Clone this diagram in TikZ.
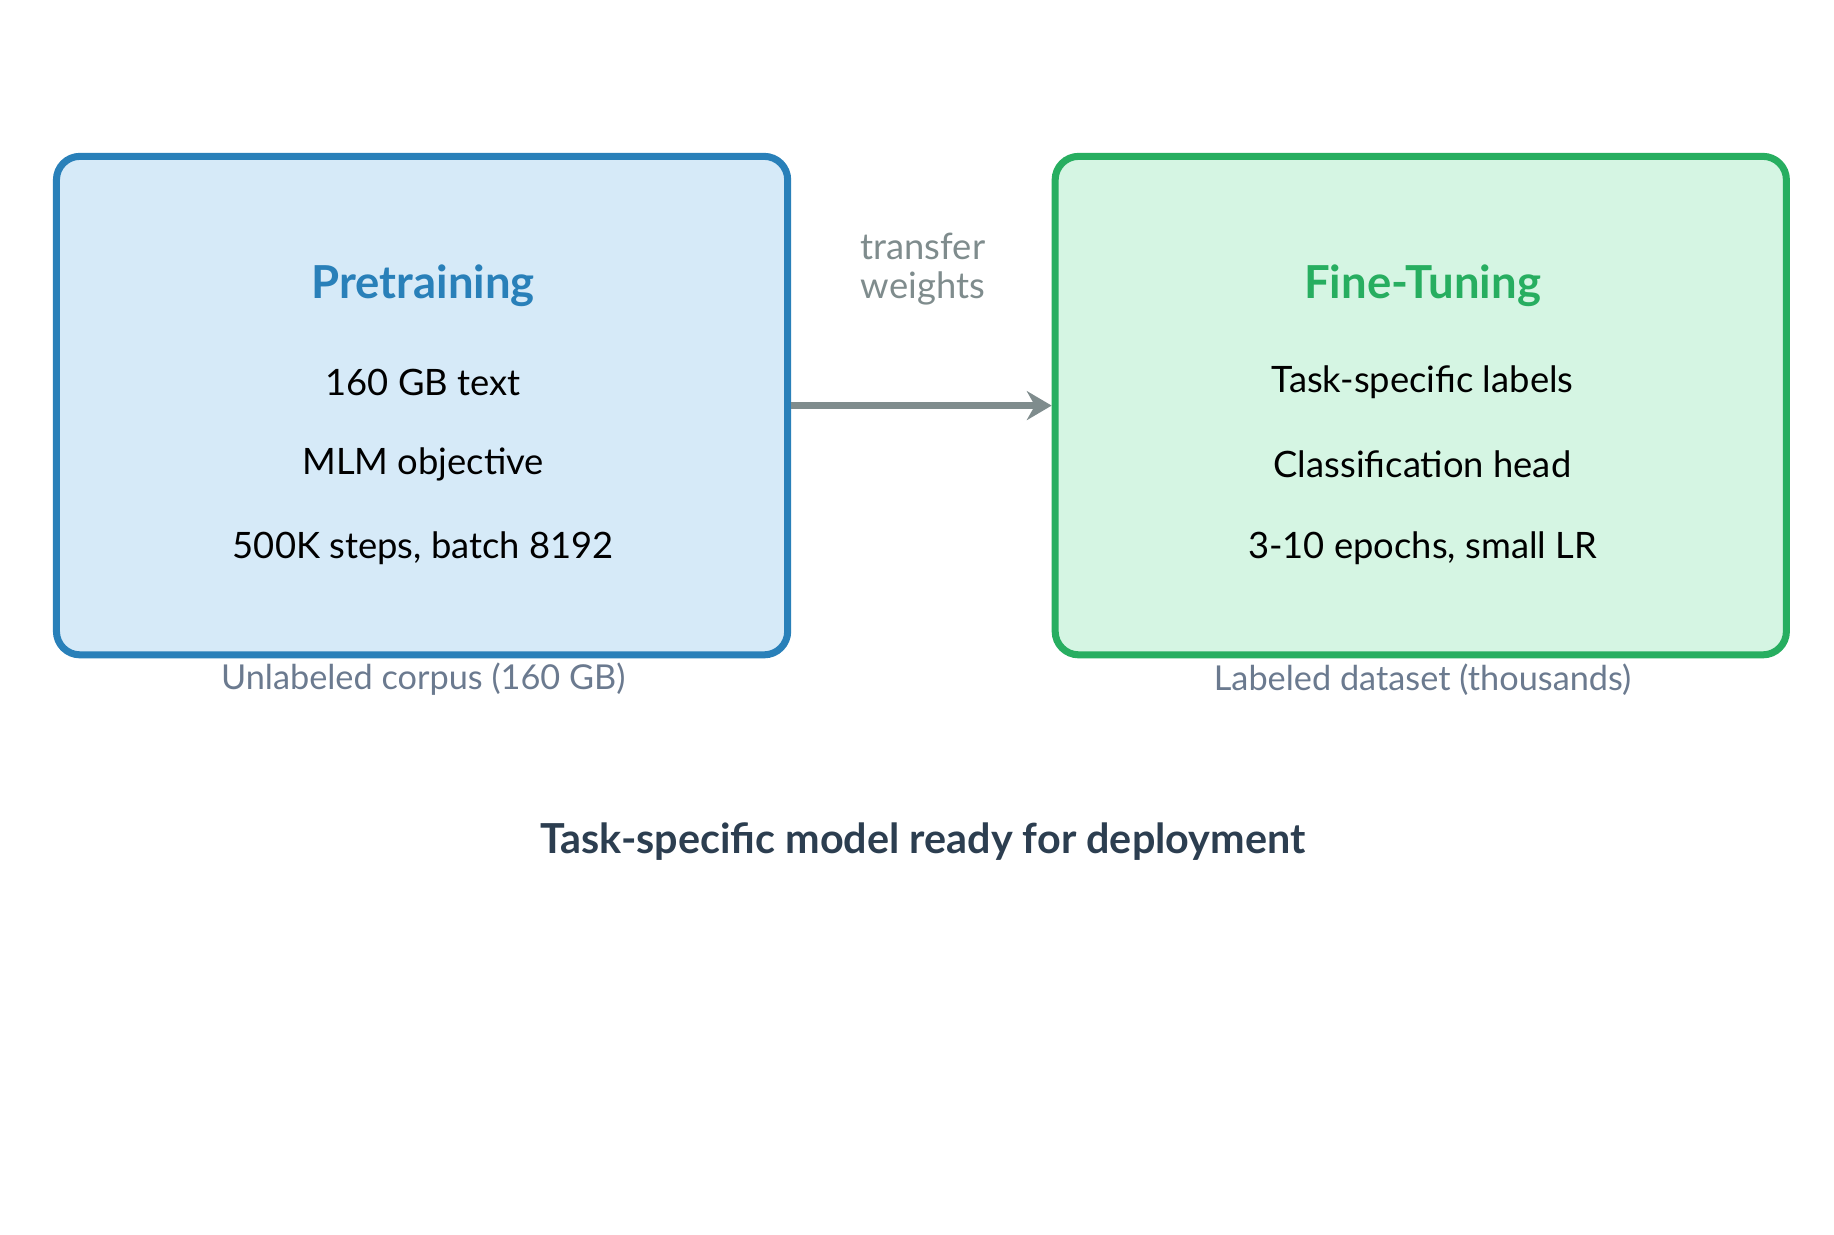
\documentclass[tikz,border=0pt]{standalone}
\usepackage{fontspec}
\setmainfont{Lato}
\usetikzlibrary{positioning,arrows.meta}
\definecolor{preblue}{HTML}{2980B9}
\definecolor{prefill}{HTML}{D6EAF8}
\definecolor{fingreen}{HTML}{27AE60}
\definecolor{finfill}{HTML}{D5F5E3}
\definecolor{arrgray}{HTML}{7F8C8D}
\definecolor{notegray}{HTML}{6B7A8F}
\definecolor{darktxt}{HTML}{2C3E50}
\tikzset{
  stage/.style={draw, line width=1.7pt, rounded corners=0.2cm, minimum width=6.22cm, minimum height=4.24cm},
  head/.style={font=\fontsize{11}{13}\selectfont\bfseries},
  item/.style={font=\fontsize{8.8}{10}\selectfont},
  note/.style={font=\fontsize{8.3}{10}\selectfont, text=notegray}
}
\begin{document}
\begin{tikzpicture}
    \useasboundingbox (0,0) rectangle (15.6,10.5);

    % the two stages
    \node[stage, draw=preblue, fill=prefill] (pre) at (3.59,7.05) {};
    \node[stage, draw=fingreen, fill=finfill] (fin) at (12.085,7.05) {};

    % texts inside the boxes
    \node[head, text=preblue] (pretitle) at (3.6,8.07) {Pretraining};
    \node[item] (pre1) at (3.6,7.25) {160 GB text};
    \node[item] (pre2) at (3.6,6.55) {MLM objective};
    \node[item] (pre3) at (3.6,5.84) {500K steps, batch 8192};

    \node[head, text=fingreen] (fintitle) at (12.1,8.07) {Fine-Tuning};
    \node[item] (fin1) at (12.1,7.25) {Task-specific labels};
    \node[item] (fin2) at (12.1,6.55) {Classification head};
    \node[item] (fin3) at (12.1,5.84) {3-10 epochs, small LR};

    % notes below
    \node[note] (prenote) at (3.6,4.72) {Unlabeled corpus (160 GB)};
    \node[note] (finnote) at (12.1,4.72) {Labeled dataset (thousands)};

    % transfer arrow
    \draw[arrgray, line width=1.7pt, -{Stealth[length=6pt,width=7pt]}] (pre.east) -- (fin.west);
    \node[note, text=arrgray, align=center, font=\fontsize{8.8}{9.6}\selectfont] (arrlab) at (7.85,8.21) {transfer\\weights};

    \node[font=\fontsize{10}{12}\selectfont\bfseries, text=darktxt] (result) at (7.85,3.34) {Task-specific model ready for deployment};
\end{tikzpicture}
\end{document}
